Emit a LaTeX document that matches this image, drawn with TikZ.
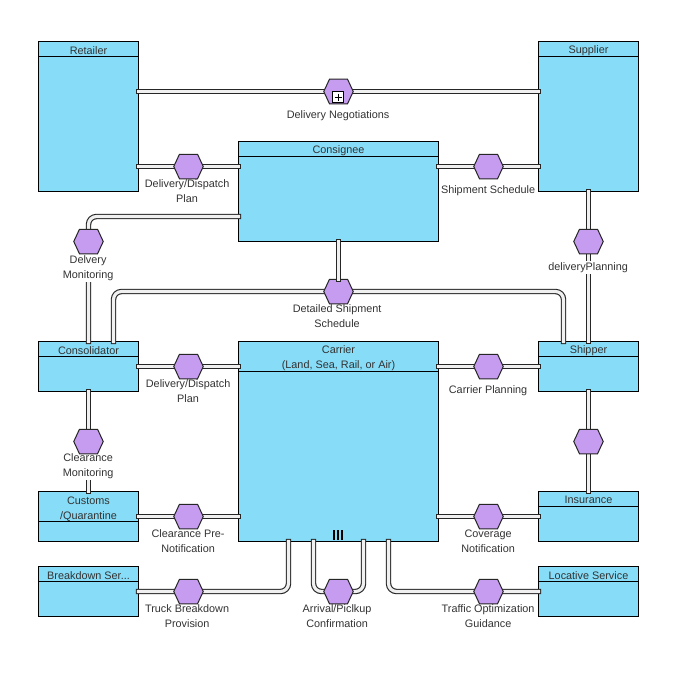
\documentclass[tikz,border=0pt]{standalone}
\usepackage{fontspec}
\setmainfont{Liberation Sans}
\usetikzlibrary{shapes.symbols}
\definecolor{boxfill}{HTML}{87DCF7}
\definecolor{hexfill}{HTML}{C69CF0}
\definecolor{wirefill}{HTML}{F0F0F0}
\definecolor{txt}{HTML}{333333}
\tikzset{
  x=1pt,y=-1pt,
  hexa/.style={shape=signal,signal to=east and west,signal pointer angle=130,draw=black!85,line width=1pt,fill=hexfill,minimum width=29.5pt,minimum height=24.5pt,inner sep=0pt,outer sep=0pt},
  wire/.style={draw=wirefill,line width=3.2pt,line cap=rect,rounded corners=8pt,preaction={draw=black!85,line width=5.4pt,line cap=rect}},
  lab/.style={fill=white,text=txt,align=center,font=\fontsize{10.85}{15}\selectfont,inner xsep=0.5pt,inner ysep=1.5pt,yshift=1pt,xshift=-0.4pt},
  boxn/.style={draw=black,line width=1pt,fill=boxfill,inner sep=0pt,outer sep=0pt},
  title/.style={text=black!80,align=center,font=\fontsize{10.85}{15}\selectfont,inner sep=0pt},
  hline/.style={draw=black,line width=1pt},
  bar/.style={draw=black,line width=2.3pt}
}
\def\tsh{1.2}
\newcommand{\pclass}[7]{% name x1 y1 x2 y2 headerY title
  \node[boxn,minimum width=#4pt-#2pt,minimum height=#5pt-#3pt] (#1) at ({(#2+#4)/2},{(#3+#5)/2}) {};
  \draw[hline] (#2,#6) -- (#4,#6);
  \node[title] (#1t) at ({(#2+#4)/2},{(#3+#6)/2+\tsh}) {#7};
}
\begin{document}
\begin{tikzpicture}
\useasboundingbox (-0.5,-0.5) rectangle (676.5,676.5);
\fill[white] (-0.5,-0.5) rectangle (676.5,676.5);
% hexagons as coordinates first
\coordinate (hA) at (338,91);
\coordinate (hB) at (188,166);
\coordinate (hC) at (488,166);
\coordinate (hD) at (88,241);
\coordinate (hE) at (588,241);
\coordinate (hF) at (338,291);
\coordinate (hG) at (188,366);
\coordinate (hH) at (488,366);
\coordinate (hI) at (88,441);
\coordinate (hJ) at (588,441);
\coordinate (hK) at (188,516);
\coordinate (hL) at (488,516);
\coordinate (hM) at (188,591);
\coordinate (hN) at (338,591);
\coordinate (hO) at (488,591);
% boxes
\pclass{retailer}{38}{41}{138}{191}{56}{Retailer}
\pclass{supplier}{538}{41}{638}{191}{56}{Supplier}
\pclass{consignee}{238}{141}{438}{241}{156}{Consignee}
\pclass{consolidator}{38}{341}{138}{391}{356}{Consolidator}
\def\tsh{2}
\pclass{carrier}{238}{341}{438}{541}{371}{Carrier\\(Land, Sea, Rail, or Air)}
\def\tsh{2.6}
\pclass{customs}{38}{491}{138}{541}{521}{Customs\\/Quarantine}
\def\tsh{1.2}
\pclass{shipper}{538}{341}{638}{391}{356}{Shipper}
\pclass{insurance}{538}{491}{638}{541}{506}{Insurance}
\pclass{breakdown}{38}{566}{138}{616}{581}{Breakdown Ser...}
\pclass{locative}{538}{566}{638}{616}{581}{Locative Service}
% connectors
\draw[wire] (retailer.east |- hA) -- (supplier.west |- hA);
\draw[wire] (retailer.east |- hB) -- (consignee.west |- hB);
\draw[wire] (consignee.east |- hC) -- (supplier.west |- hC);
\draw[wire] (consignee.west |- 0,216) -- (88,216) -- (consolidator.north -| hD);
\draw[wire] (consolidator.north -| 113,0) -- (113,291) -- (563,291) -- (shipper.north -| 563,0);
\draw[wire] (supplier.south -| hE) -- (shipper.north -| hE);
\draw[wire] (consolidator.south -| hI) -- (customs.north -| hI);
\draw[wire] (shipper.south -| hJ) -- (insurance.north -| hJ);
\draw[wire] (consolidator.east |- hG) -- (carrier.west |- hG);
\draw[wire] (carrier.east |- hH) -- (shipper.west |- hH);
\draw[wire] (customs.east |- hK) -- (carrier.west |- hK);
\draw[wire] (carrier.east |- hL) -- (insurance.west |- hL);
\draw[wire] (breakdown.east |- hM) -- (288,591) -- (carrier.south -| 288,0);
\draw[wire] (locative.west |- hO) -- (388,591) -- (carrier.south -| 388,0);
\draw[wire] (carrier.south -| 313,0) -- (313,591) -- (hN);
\draw[wire] (carrier.south -| 363,0) -- (363,591) -- (hN);
% labels
\node[lab] (l1) at (338,116) {Delivery Negotiations};
\node[lab] (l2) at (187,191.5) {Delivery/Dispatch\\Plan};
\node[lab] (l3) at (488,191) {Shipment Schedule};
\node[lab] (l4) at (88,268.5) {Delvery\\Monitoring};
\node[lab] (l5) at (588,268) {deliveryPlanning};
\node[lab] (l6) at (337,316.5) {Detailed Shipment\\Schedule};
\node[lab] (l7) at (188,391.5) {Delivery/Dispatch\\Plan};
\node[lab] (l8) at (488,391) {Carrier Planning};
\node[lab] (l9) at (88,466.5) {Clearance\\Monitoring};
\node[lab] (l10) at (188,541.5) {Clearance Pre-\\Notification};
\node[lab] (l11) at (488,541.5) {Coverage\\Notification};
\node[lab] (l12) at (187,616.5) {Truck Breakdown\\Provision};
\node[lab] (l13) at (337,616.5) {Arrival/Piclkup\\Confirmation};
\node[lab] (l14) at (488,616.5) {Traffic Optimization\\Guidance};
% hexagons
\foreach \h in {hA,hB,hC,hD,hE,hF,hG,hH,hI,hJ,hK,hL,hM,hN,hO}{
  \node[hexa] (\h n) at (\h) {};
}
\draw[wire] (consignee.south -| hF) -- (hFn.north);
% plus marker
\node[draw=black,line width=1.2pt,fill=white,minimum size=11pt,inner sep=0pt] (plus) at (337.7,96.7) {};
\draw[black,line width=0.9pt] (334,96.7) -- (341.4,96.7);
\draw[black,line width=0.9pt] (337.7,93) -- (337.7,100.4);
% parallel bars
\draw[bar] (333.7,529.5) -- (333.7,539.5);
\draw[bar] (337.7,529.5) -- (337.7,539.5);
\draw[bar] (341.7,529.5) -- (341.7,539.5);
\end{tikzpicture}
\end{document}
